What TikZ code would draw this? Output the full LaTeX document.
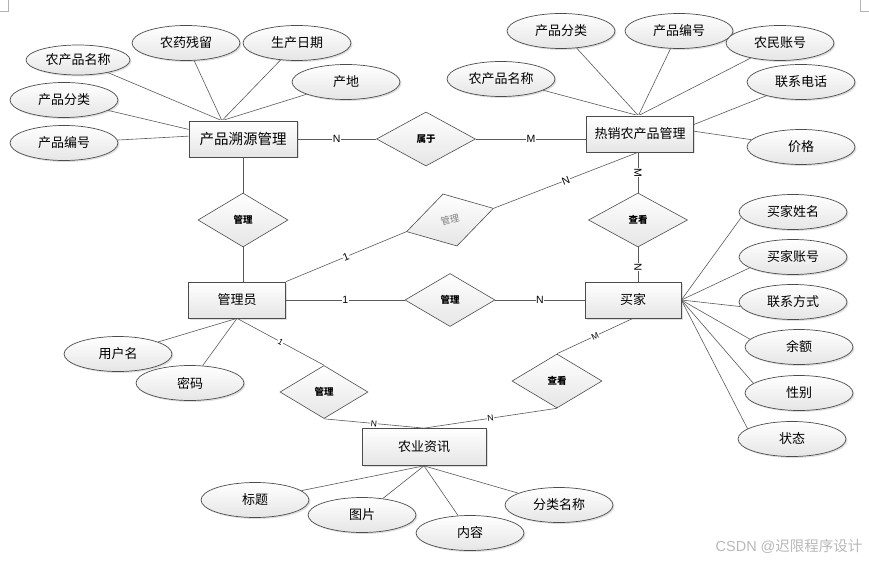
\documentclass[tikz,border=0pt]{standalone}
\usepackage{fontspec}
\setmainfont{Noto Sans CJK SC}
\newfontfamily\arial{Liberation Sans}
\usepackage{tikz}
\usetikzlibrary{shapes.geometric,shadows}
\pgfdeclarelayer{bg}
\pgfsetlayers{bg,main}

\begin{document}
\begin{tikzpicture}[x=1pt, y=-1pt,
  ent/.style={draw=black!70, line width=0.7pt, top color=white, bottom color=black!10,
    drop shadow={shadow xshift=1.5pt, shadow yshift=-1.5pt, opacity=0.25},
    minimum width=97, minimum height=36, inner sep=0pt, font=\fontsize{13}{15}\selectfont},
  attr/.style={ent, ellipse, minimum width=108, minimum height=35},
  rel/.style={diamond, draw=black!70, line width=0.6pt, top color=white, bottom color=black!10,
    minimum width=90, minimum height=54, inner sep=0pt, font=\fontsize{9.5}{11}\selectfont\bfseries},
  ln/.style={draw=black!65, line width=0.6pt},
  card/.style={fill=white, inner sep=0.5pt, font=\arial\fontsize{10.5}{12}\selectfont, sloped},
  cardsm/.style={card, font=\arial\fontsize{8.5}{10}\selectfont}]
\useasboundingbox (0,0) rectangle (869,561);

% entities
\node[ent, minimum width=108, font=\fontsize{14.5}{16}\selectfont] (ps) at (243,139) {产品溯源管理};
\node[ent, minimum width=107] (rx)  at (640,134) {热销农产品管理};
\node[ent]                    (gly) at (237,300) {管理员};
\node[ent, minimum width=96]  (mj)  at (633,300) {买家};
\node[ent, minimum width=124, minimum height=37] (nz) at (424,447) {农业资讯};

% relations
\node[rel, minimum width=99] (sy)  at (426,139) {属于};
\node[rel]                   (gl1) at (243,220) {管理};
\node[rel, rotate=15, text=black!50, font=\fontsize{9.5}{11}\selectfont] (gl2) at (450,220) {管理};
\node[rel, minimum width=99] (ck1) at (638,220) {查看};
\node[rel, minimum height=53] (gl3) at (450,300) {管理};
\node[rel, minimum width=88, minimum height=53] (gl4) at (324,392) {管理};
\node[rel] (ck2) at (557,381) {查看};

% attributes
\node[attr, minimum width=104, minimum height=30] (a1) at (78,60) {农产品名称};
\node[attr] (a2) at (186,43)  {农药残留};
\node[attr] (a3) at (297,43)  {生产日期};
\node[attr] (a4) at (346,82)  {产地};
\node[attr] (a5) at (64,100)  {产品分类};
\node[attr] (a6) at (64,143)  {产品编号};

\node[attr] (b1) at (561,31)  {产品分类};
\node[attr] (b2) at (679,31)  {产品编号};
\node[attr] (b3) at (780,43)  {农民账号};
\node[attr] (b4) at (501,79)  {农产品名称};
\node[attr] (b5) at (801,82)  {联系电话};
\node[attr] (b6) at (801,147) {价格};

\node[attr] (c1) at (793,212) {买家姓名};
\node[attr] (c2) at (793,257) {买家账号};
\node[attr] (c3) at (793,302) {联系方式};
\node[attr] (c4) at (799,347) {余额};
\node[attr] (c5) at (799,393) {性别};
\node[attr] (c6) at (792,439) {状态};

\node[attr] (d1) at (118,354) {用户名};
\node[attr] (d2) at (190,383) {密码};

\node[attr] (e1) at (255,500) {标题};
\node[attr] (e2) at (362,515) {图片};
\node[attr] (e3) at (470,533) {内容};
\node[attr] (e4) at (559,505) {分类名称};

\coordinate (rxb) at (ck1.north |- rx.south);

\begin{pgfonlayer}{bg}
% attribute links
\foreach \a in {a1,a2,a3,a4} \draw[ln] (\a) -- (ps.139);
\draw[ln] (a5) -- (ps.170);
\draw[ln] (a6) -- (ps.177);
\foreach \b in {b1,b2,b3,b4} \draw[ln] (\b) -- (rx.95);
\draw[ln] (b5) -- (rx.10);
\draw[ln] (b6) -- (rx.3);
\foreach \c/\ang in {c1/186,c2/194,c3/185,c4/171,c5/168,c6/167}
  \draw[ln] (\c.\ang) -- (mj.east);
\foreach \d in {d1,d2} \draw[ln] (\d) -- (gly.south);
\foreach \e in {e1,e2,e3,e4} \draw[ln] (\e) -- (nz.south);
\end{pgfonlayer}

% relation links
\draw[ln] (ps.east) -- node[card] {N} (sy.west);
\draw[ln] (sy.east) -- node[card] {M} (rx.west |- sy.east);
\draw[ln] (ps.south) -- (gl1.north);
\draw[ln] (gl1.south) -- (gl1.south |- gly.north);
\draw[ln] (gly.north east) -- node[card] {1} (gl2.west);
\draw[ln] (gl2.east) -- node[card] {N} (rxb);
\draw[ln] (rxb) -- node[card] {M} (ck1.north);
\draw[ln] (ck1.south) -- node[card, pos=0.57] {N} (ck1.south |- mj.north);
\draw[ln] (gly.east) -- node[card] {1} (gl3.west);
\draw[ln] (gl3.east) -- node[card] {N} (mj.west);
\draw[ln] (gly.south) -- node[cardsm] {1} (gl4.north);
\draw[ln] (gl4.south) -- node[cardsm] {N} (nz.north);
\draw[ln] (ck2.south) -- node[cardsm] {N} (nz.north);
\draw[ln] (ck2.north) -- node[cardsm] {M} (mj.south);

% page marks and watermark
\draw[black!30] (8,0) -- (8,11) -- (0,11);
\draw[black!30] (869,11) -- (860,11) -- (860,0);
\node[text=black!28, font=\fontsize{14.5}{16}\selectfont, anchor=east] (wm) at (866,546) {{\arial CSDN @}迟限程序设计};
\end{tikzpicture}
\end{document}
